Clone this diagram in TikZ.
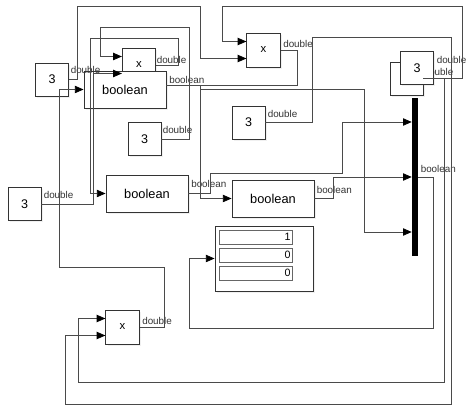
\documentclass[tikz,border=0pt]{standalone}
\usepackage{fontspec}
\setsansfont{Liberation Sans}
\usetikzlibrary{arrows.meta,shadows}
\definecolor{wiregray}{HTML}{4A4A4A}
\definecolor{edgegray}{HTML}{333333}

\begin{document}
\begin{tikzpicture}[x=0.75pt,y=-0.75pt,
  font=\sffamily,
  block/.style={rectangle,draw=edgegray,line width=0.7pt,fill=white,inner sep=0pt,
    drop shadow={shadow xshift=1.3pt,shadow yshift=-1.3pt,opacity=0.12}},
  cst/.style={block,minimum width=24.75pt,minimum height=24.75pt,font=\sffamily\fontsize{9.4}{11}\selectfont},
  prod/.style={block,minimum width=25pt,minimum height=25.5pt,font=\sffamily\fontsize{8.5}{10}\selectfont},
  logic/.style={block,minimum width=61.5pt,minimum height=27.75pt,font=\sffamily\fontsize{9.6}{11}\selectfont},
  field/.style={rectangle,draw=black!60,line width=0.6pt,fill=white,minimum height=10.5pt,
    text width=52pt,inner sep=1.5pt,align=right,font=\sffamily\fontsize{8}{9}\selectfont},
  sig/.style={draw=wiregray,line width=0.6pt},
  arr/.style={sig,-{Triangle[length=6.5pt,width=5.5pt,fill=black,color=black]}},
  typelbl/.style={font=\sffamily\fontsize{7.4}{8}\selectfont,text=black!80,inner sep=0pt,anchor=south west},
]
\useasboundingbox (0,0) rectangle (474,409);

% Right constants: back one first, front one covers it
\node[cst] (c6) at (406.5,78.5) {3};
\node[typelbl] at (423.5,75.5) {double};
\node[cst] (c5) at (417,68) {3};
\node[typelbl] at (436.5,63.5) {double};

% Other constants
\node[cst] (c1) at (52,79.5)   {3};
\node[cst] (c2) at (24.5,204)  {3};
\node[cst] (c3) at (144.5,139) {3};
\node[cst] (c4) at (248.5,122.5) {3};

% Products
\node[prod] (xa) at (139,65)    {x};
\node[prod] (xb) at (263.5,50)  {x};
\node[prod] (xc) at (122.5,327) {x};

% Logic blocks
\node[logic] (b1) at (125,89.5)  {boolean};
\node[logic] (bb) at (147,193.5) {boolean};
\node[logic] (mb) at (273,198.5) {boolean};

% Mux bar and display
\node[fill=black,minimum width=4.5pt,minimum height=118.5pt,inner sep=0pt] (mux) at (415,177) {};
\node[block,minimum width=73.5pt,minimum height=48.75pt] (disp) at (264,258.5) {};
\foreach \v/\y [count=\i] in {1/237,0/255,0/273}
  \node[field] (f\i) at (256,\y) {\v};

% Type labels
\node[typelbl] at (70.5,73.5)  {double};
\node[typelbl] at (43.5,198.5) {double};
\node[typelbl] at (162.5,134)  {double};
\node[typelbl] at (267.5,117.5) {double};
\node[typelbl] at (156.5,64)   {double};
\node[typelbl] at (283,47.5)   {double};
\node[typelbl] at (142,324.5)  {double};
\node[typelbl] at (169,84)     {boolean};
\node[typelbl] at (191,188)    {boolean};
\node[typelbl] at (316.5,194)  {boolean};
\node[typelbl] at (420.5,172.5) {boolean};

% Branch points
\coordinate (split1) at (200,89.5);
\coordinate (split2) at (444,78.5);

% Wires into the products
\draw[arr] (c1.east) -| (77,6) -| (200,58.5) -- (xb.west |- 0,58.5);
\draw[arr] (c6.east) -| (462,6) -| (222,41.5) -- (xb.west |- 0,41.5);
\draw[arr] (c3.east) -| (189,27) -| (100,56.5) -- (xa.west |- 0,56.5);
\draw[arr] (c2.east) -| (93,73.5) -- (xa.west |- 0,73.5);
\draw[arr] (c4.east) -| (312,37) -| (451,404) -| (65,335.5) -- (xc.west |- 0,335.5);
\draw[arr] (split2) -- (444,382) -| (78,318.5) -- (xc.west |- 0,318.5);

% Wires into the logic blocks
\draw[arr] (xa.east) -| (178,38) -| (90,193.5) -- (bb.west);
\draw[sig] (xb.east) -| (297,85) -- (b1.east |- 0,85);
\draw[arr] (xc.east) -| (164,267) -| (59,89.5) -- (b1.west);
\draw[arr] (b1.east |- 0,85) -| (200,198.5) -- (mb.west);

% Wires into the mux
\draw[arr] (bb.east) -| (210,173) -| (342,122) -- (mux.west |- 0,122);
\draw[arr] (mb.east) -| (333,177) -- (mux.west);
\draw[arr] (split1) -| (364,232) -- (mux.west |- 0,232);

% Mux to display
\draw[arr] (mux.east) -| (433,328) -| (189,258.5) -- (disp.west);
\end{tikzpicture}
\end{document}
